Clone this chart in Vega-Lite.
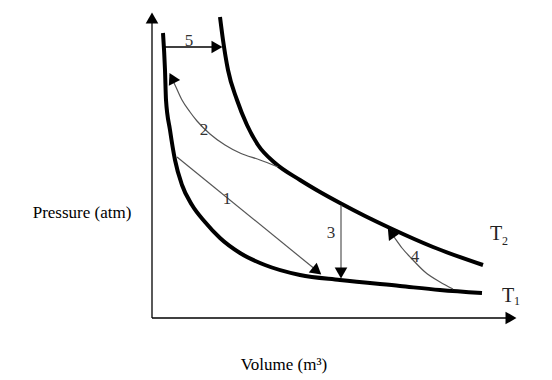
{
  "$schema": "https://vega.github.io/schema/vega-lite/v6.json",
  "autosize": {"type": "fit", "contains": "padding"},
  "width": 552,
  "height": 380,
  "padding": 0,
  "background": "white",
  "config": {"view": {"stroke": null}},
  "datasets": {
    "curves": [
      {"id": "T1", "V": 11, "P": 285}, {"id": "T1", "V": 13, "P": 248}, {"id": "T1", "V": 14, "P": 218},
      {"id": "T1", "V": 18, "P": 188}, {"id": "T1", "V": 23, "P": 158}, {"id": "T1", "V": 30, "P": 133},
      {"id": "T1", "V": 40, "P": 113}, {"id": "T1", "V": 53, "P": 96}, {"id": "T1", "V": 68, "P": 80},
      {"id": "T1", "V": 88, "P": 65}, {"id": "T1", "V": 113, "P": 53}, {"id": "T1", "V": 148, "P": 43},
      {"id": "T1", "V": 188, "P": 38}, {"id": "T1", "V": 248, "P": 32}, {"id": "T1", "V": 288, "P": 28},
      {"id": "T1", "V": 330, "P": 25},
      {"id": "T2", "V": 68, "P": 301}, {"id": "T2", "V": 71, "P": 278}, {"id": "T2", "V": 76, "P": 248},
      {"id": "T2", "V": 85, "P": 218}, {"id": "T2", "V": 95, "P": 193}, {"id": "T2", "V": 106, "P": 173},
      {"id": "T2", "V": 123, "P": 155}, {"id": "T2", "V": 148, "P": 138}, {"id": "T2", "V": 168, "P": 126},
      {"id": "T2", "V": 188, "P": 115}, {"id": "T2", "V": 213, "P": 102}, {"id": "T2", "V": 238, "P": 90},
      {"id": "T2", "V": 281, "P": 71}, {"id": "T2", "V": 331, "P": 53},
      {"id": "p1", "V": 25, "P": 161}, {"id": "p1", "V": 164, "P": 48},
      {"id": "p2", "V": 18, "P": 243}, {"id": "p2", "V": 23, "P": 233}, {"id": "p2", "V": 30, "P": 218},
      {"id": "p2", "V": 38, "P": 206}, {"id": "p2", "V": 45, "P": 197}, {"id": "p2", "V": 58, "P": 184},
      {"id": "p2", "V": 73, "P": 173}, {"id": "p2", "V": 88, "P": 165}, {"id": "p2", "V": 108, "P": 158},
      {"id": "p2", "V": 126, "P": 151},
      {"id": "p3", "V": 189, "P": 113}, {"id": "p3", "V": 189, "P": 46},
      {"id": "p4", "V": 237, "P": 88}, {"id": "p4", "V": 242, "P": 81}, {"id": "p4", "V": 250, "P": 70},
      {"id": "p4", "V": 261, "P": 58}, {"id": "p4", "V": 273, "P": 46}, {"id": "p4", "V": 288, "P": 36},
      {"id": "p4", "V": 301, "P": 29},
      {"id": "p5", "V": 11, "P": 271}, {"id": "p5", "V": 63, "P": 271},
      {"id": "axisY", "V": 0, "P": 0}, {"id": "axisY", "V": 0, "P": 297},
      {"id": "axisX", "V": 0, "P": 0}, {"id": "axisX", "V": 355, "P": 0}
    ],
    "arrows": [
      {"id": "axisY", "V": 0, "P": 300, "heading": 0},
      {"id": "axisX", "V": 359, "P": 0, "heading": 90},
      {"id": "p5", "V": 65, "P": 271, "heading": 90},
      {"id": "p1", "V": 165, "P": 47, "heading": 129},
      {"id": "p2", "V": 20, "P": 240, "heading": -27},
      {"id": "p3", "V": 189, "P": 45, "heading": 180},
      {"id": "p4", "V": 239, "P": 85, "heading": -35}
    ],
    "labels": [
      {"text": "5", "role": "num", "V": 37, "P": 277},
      {"text": "2", "role": "num", "V": 52, "P": 188},
      {"text": "1", "role": "num", "V": 75, "P": 119},
      {"text": "3", "role": "num", "V": 179, "P": 85},
      {"text": "4", "role": "num", "V": 263, "P": 61},
      {"text": "T", "role": "T", "V": 344, "P": 84},
      {"text": "2", "role": "sub", "V": 353, "P": 77},
      {"text": "T", "role": "T", "V": 356, "P": 22},
      {"text": "1", "role": "sub", "V": 365, "P": 17},
      {"text": "Pressure (atm)", "role": "title", "V": -70, "P": 105},
      {"text": "Volume (m³)", "role": "title", "V": 132, "P": -47}
    ]
  },
  "encoding": {
    "x": {"field": "V", "type": "quantitative", "scale": {"domain": [-152, 400], "nice": false, "zero": false}, "axis": null},
    "y": {"field": "P", "type": "quantitative", "scale": {"domain": [-62, 318], "nice": false, "zero": false}, "axis": null}
  },
  "layer": [
    {
      "data": {"name": "curves"},
      "transform": [{"filter": "datum.id === 'T1' || datum.id === 'T2'"}],
      "mark": {"type": "line", "color": "black", "strokeWidth": 4, "interpolate": "monotone", "strokeCap": "butt"},
      "encoding": {"detail": {"field": "id"}}
    },
    {
      "data": {"name": "curves"},
      "transform": [{"filter": "datum.id === 'p1' || datum.id === 'p2' || datum.id === 'p3' || datum.id === 'p4'"}],
      "mark": {"type": "line", "color": "#555555", "strokeWidth": 1.2, "interpolate": "monotone"},
      "encoding": {"detail": {"field": "id"}}
    },
    {
      "data": {"name": "curves"},
      "transform": [{"filter": "datum.id === 'p5' || datum.id === 'axisX' || datum.id === 'axisY'"}],
      "mark": {"type": "line", "color": "black", "strokeWidth": 1.3},
      "encoding": {"detail": {"field": "id"}}
    },
    {
      "data": {"name": "arrows"},
      "mark": {"type": "point", "shape": "triangle-up", "filled": true, "color": "black", "opacity": 1, "size": 160},
      "encoding": {"angle": {"field": "heading", "type": "quantitative", "scale": null}}
    },
    {
      "data": {"name": "labels"},
      "transform": [{"filter": "datum.role === 'num'"}],
      "mark": {"type": "text", "font": "Liberation Serif", "fontSize": 17, "color": "#333333", "baseline": "middle", "align": "center"},
      "encoding": {"text": {"field": "text"}}
    },
    {
      "data": {"name": "labels"},
      "transform": [{"filter": "datum.role === 'T'"}],
      "mark": {"type": "text", "font": "Liberation Serif", "fontSize": 20, "color": "#222222", "baseline": "middle", "align": "center"},
      "encoding": {"text": {"field": "text"}}
    },
    {
      "data": {"name": "labels"},
      "transform": [{"filter": "datum.role === 'sub'"}],
      "mark": {"type": "text", "font": "Liberation Serif", "fontSize": 12, "color": "#222222", "baseline": "middle", "align": "center"},
      "encoding": {"text": {"field": "text"}}
    },
    {
      "data": {"name": "labels"},
      "transform": [{"filter": "datum.role === 'title'"}],
      "mark": {"type": "text", "font": "Liberation Serif", "fontSize": 17, "color": "black", "baseline": "middle", "align": "center"},
      "encoding": {"text": {"field": "text"}}
    }
  ]
}
